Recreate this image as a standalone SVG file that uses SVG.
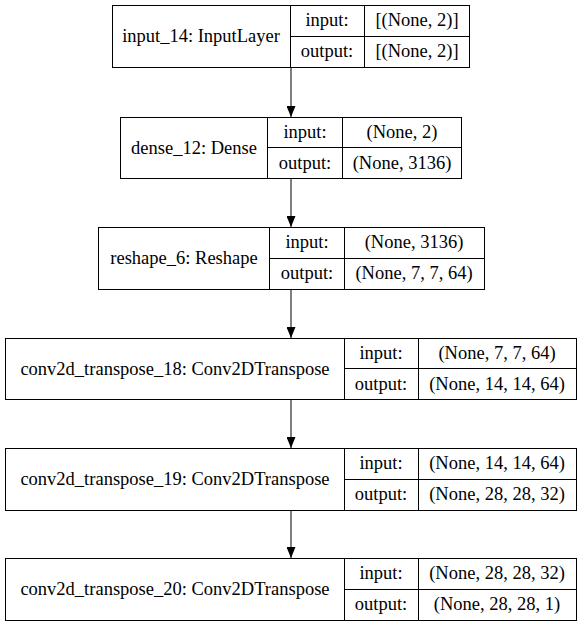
<svg xmlns="http://www.w3.org/2000/svg" width="583" height="627" viewBox="0 0 583 627">
<style>
rect{fill:#fff;stroke:#000;stroke-width:1}
.d{stroke:#000;stroke-width:1;fill:none}
text{font-family:"Liberation Serif","Times New Roman",serif;font-size:18.5px;fill:#000;text-anchor:middle}
.e{stroke:#000;stroke-width:1;fill:none;marker-end:url(#ah)}
</style>
<defs>
<marker id="ah" markerWidth="11" markerHeight="9" refX="11" refY="4.5" orient="auto" markerUnits="userSpaceOnUse">
<path d="M0,0 L11,4.5 L0,9 Z" fill="#000"/>
</marker>
</defs>
<rect width="583" height="627" style="fill:#fff;stroke:none"/>
<g id="connectors">
<line class="e" x1="291" y1="67" x2="291" y2="117"/>
<line class="e" x1="291" y1="179" x2="291" y2="227"/>
<line class="e" x1="291" y1="289" x2="291" y2="338"/>
<line class="e" x1="291" y1="400" x2="291" y2="448"/>
<line class="e" x1="291" y1="510" x2="291" y2="558"/>
</g>
<g id="input_14">
<rect x="112.5" y="5.5" width="357" height="62"/>
<path class="d" d="M290.5,5.5V67.5M364.5,5.5V67.5M290.5,36.5H469.5"/>
<text x="201" y="42">input_14: InputLayer</text>
<text x="327" y="26">input:</text>
<text x="327" y="57">output:</text>
<text x="417" y="26">[(None, 2)]</text>
<text x="417" y="57">[(None, 2)]</text>
</g>
<g id="dense_12">
<rect x="120.5" y="117.5" width="341" height="61"/>
<path class="d" d="M267.5,117.5V178.5M342.5,117.5V178.5M267.5,147.5H461.5"/>
<text x="194" y="154">dense_12: Dense</text>
<text x="305" y="138">input:</text>
<text x="305" y="169">output:</text>
<text x="402" y="138">(None, 2)</text>
<text x="402" y="169">(None, 3136)</text>
</g>
<g id="reshape_6">
<rect x="98.5" y="227.5" width="386" height="62"/>
<path class="d" d="M269.5,227.5V289.5M344.5,227.5V289.5M269.5,258.5H484.5"/>
<text x="184" y="264">reshape_6: Reshape</text>
<text x="307" y="248">input:</text>
<text x="307" y="279">output:</text>
<text x="414" y="248">(None, 3136)</text>
<text x="414" y="279">(None, 7, 7, 64)</text>
</g>
<g id="conv2d_transpose_18">
<rect x="5.5" y="338.5" width="571" height="61"/>
<path class="d" d="M344.5,338.5V399.5M418.5,338.5V399.5M344.5,368.5H576.5"/>
<text x="175" y="375">conv2d_transpose_18: Conv2DTranspose</text>
<text x="381" y="359">input:</text>
<text x="381" y="390">output:</text>
<text x="497" y="359">(None, 7, 7, 64)</text>
<text x="497" y="390">(None, 14, 14, 64)</text>
</g>
<g id="conv2d_transpose_19">
<rect x="5.5" y="448.5" width="571" height="62"/>
<path class="d" d="M344.5,448.5V510.5M418.5,448.5V510.5M344.5,479.5H576.5"/>
<text x="175" y="485">conv2d_transpose_19: Conv2DTranspose</text>
<text x="381" y="469">input:</text>
<text x="381" y="500">output:</text>
<text x="497" y="469">(None, 14, 14, 64)</text>
<text x="497" y="500">(None, 28, 28, 32)</text>
</g>
<g id="conv2d_transpose_20">
<rect x="5.5" y="558.5" width="571" height="62"/>
<path class="d" d="M344.5,558.5V620.5M418.5,558.5V620.5M344.5,589.5H576.5"/>
<text x="175" y="595">conv2d_transpose_20: Conv2DTranspose</text>
<text x="381" y="579">input:</text>
<text x="381" y="610">output:</text>
<text x="497" y="579">(None, 28, 28, 32)</text>
<text x="497" y="610">(None, 28, 28, 1)</text>
</g>
</svg>
